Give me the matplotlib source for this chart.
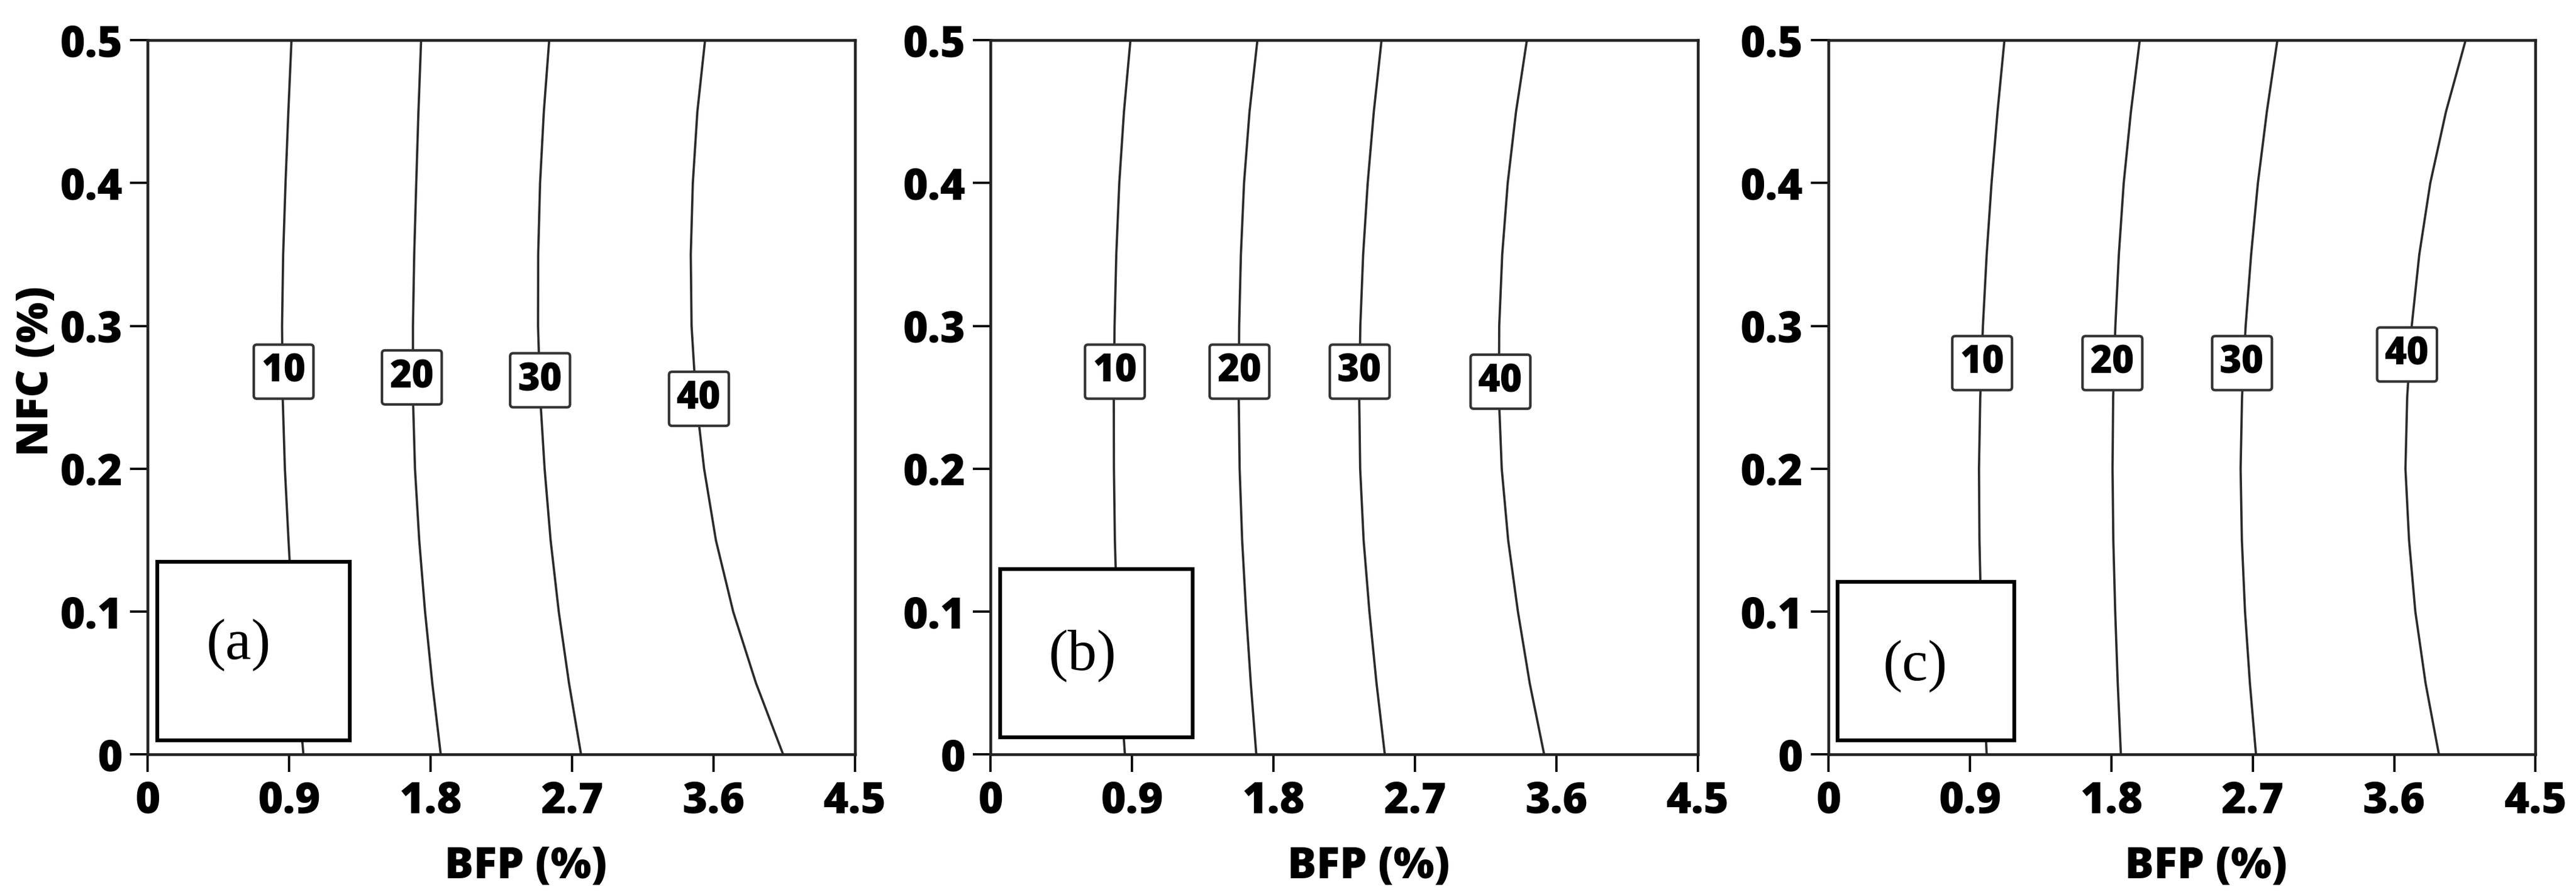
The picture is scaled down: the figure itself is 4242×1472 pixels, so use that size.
import matplotlib

matplotlib.use("Agg")
import matplotlib.pyplot as plt
from matplotlib.patches import Rectangle

NFC_SAMPLES = [0.0, 0.05, 0.10, 0.15, 0.20, 0.25, 0.30, 0.35, 0.40, 0.45, 0.50]
LEVELS = [10, 20, 30, 40]

# BFP position of each iso-line (rows follow LEVELS) at NFC_SAMPLES
BFP_A = [
    [0.99, 0.95, 0.92, 0.895, 0.872, 0.858, 0.854, 0.861, 0.876, 0.894, 0.914],
    [1.864, 1.81, 1.764, 1.727, 1.700, 1.687, 1.687, 1.695, 1.708, 1.722, 1.739],
    [2.757, 2.68, 2.615, 2.563, 2.525, 2.497, 2.483, 2.484, 2.496, 2.520, 2.554],
    [4.043, 3.87, 3.725, 3.615, 3.54, 3.488, 3.46, 3.455, 3.468, 3.497, 3.546],
]
BFP_B = [
    [0.854, 0.823, 0.803, 0.79, 0.784, 0.783, 0.788, 0.799, 0.818, 0.848, 0.889],
    [1.69, 1.655, 1.625, 1.60, 1.584, 1.578, 1.581, 1.592, 1.612, 1.647, 1.697],
    [2.508, 2.455, 2.41, 2.373, 2.351, 2.345, 2.352, 2.37, 2.399, 2.438, 2.487],
    [3.522, 3.43, 3.355, 3.293, 3.252, 3.234, 3.236, 3.255, 3.29, 3.343, 3.412],
]
BFP_C = [
    [1.007, 0.986, 0.971, 0.961, 0.958, 0.966, 0.983, 1.007, 1.038, 1.076, 1.12],
    [1.861, 1.841, 1.825, 1.813, 1.808, 1.812, 1.826, 1.848, 1.879, 1.925, 1.981],
    [2.721, 2.682, 2.651, 2.631, 2.623, 2.632, 2.655, 2.69, 2.733, 2.79, 2.857],
    [3.885, 3.80, 3.735, 3.695, 3.672, 3.683, 3.712, 3.76, 3.83, 3.93, 4.055],
]

# where each contour value is written (BFP, NFC)
LABELS_A = [(0.864, 0.268), (1.68, 0.264), (2.496, 0.262), (3.507, 0.249)]
LABELS_B = [(0.79, 0.268), (1.583, 0.268), (2.348, 0.268), (3.244, 0.261)]
LABELS_C = [(0.978, 0.274), (1.807, 0.274), (2.632, 0.274), (3.682, 0.280)]

PANEL_TAGS = ["(a)", "(b)", "(c)"]
# tag boxes: x0, y0, x1, y1 in data units, then tag text position
TAG_BOXES = [(0.061, 0.010, 1.286, 0.135), (0.06, 0.012, 1.284, 0.130), (0.057, 0.010, 1.181, 0.121)]
TAG_POS = [(0.579, 0.077), (0.583, 0.069), (0.551, 0.062)]

X_TICKS = [0, 0.9, 1.8, 2.7, 3.6, 4.5]
X_TICKLABELS = ["0", "0.9", "1.8", "2.7", "3.6", "4.5"]
Y_TICKS = [0, 0.1, 0.2, 0.3, 0.4, 0.5]
Y_TICKLABELS = ["0", "0.1", "0.2", "0.3", "0.4", "0.5"]

SANS = ["Open Sans", "DejaVu Sans"]
SERIF = ["Liberation Serif", "DejaVu Serif"]
HEAVY = 800

fig = plt.figure(figsize=(4242 / 300, 1472 / 300), dpi=300)
lefts = [0.0574, 0.3846, 0.7098]
panels = [(BFP_A, LABELS_A), (BFP_B, LABELS_B), (BFP_C, LABELS_C)]

for i, (bfp, labels) in enumerate(panels):
    ax = fig.add_axes([lefts[i], 0.156, 0.2745, 0.799])
    for xs in bfp:
        ax.plot(xs, NFC_SAMPLES, color="#2a2a2a", lw=0.9, zorder=2)
    for lev, (lx, ly) in zip(LEVELS, labels):
        ax.text(lx, ly, str(lev), ha="center", va="center", fontsize=15,
                fontweight=HEAVY, family=SANS, zorder=4,
                bbox=dict(boxstyle="round,pad=0.2,rounding_size=0.08",
                          fc="white", ec="#333333", lw=1.0))

    x0, y0, x1, y1 = TAG_BOXES[i]
    ax.add_patch(Rectangle((x0, y0), x1 - x0, y1 - y0, fc="white",
                           ec="black", lw=1.5, zorder=3))
    tx, ty = TAG_POS[i]
    ax.text(tx, ty, PANEL_TAGS[i], ha="center", va="center", fontsize=23,
            family=SERIF, zorder=4)

    ax.set_xlim(0, 4.5)
    ax.set_ylim(0, 0.5)
    ax.set_xticks(X_TICKS)
    ax.set_xticklabels(X_TICKLABELS)
    ax.set_yticks(Y_TICKS)
    ax.set_yticklabels(Y_TICKLABELS)
    ax.tick_params(direction="out", length=7, width=0.9, pad=3, labelsize=17)
    for lab in ax.get_xticklabels() + ax.get_yticklabels():
        lab.set_fontweight(HEAVY)
        lab.set_family(SANS)
    for s in ax.spines.values():
        s.set_linewidth(1.1)
        s.set_color("#222222")

    ax.set_xlabel("BFP (%)", fontsize=17, fontweight=HEAVY, family=SANS)
    ax.xaxis.set_label_coords(0.534, -0.127)
    if i == 0:
        ax.set_ylabel("NFC (%)", fontsize=17, fontweight=HEAVY, family=SANS)
        ax.yaxis.set_label_coords(-0.127, 0.537)

fig.savefig("out.png", dpi=300)
